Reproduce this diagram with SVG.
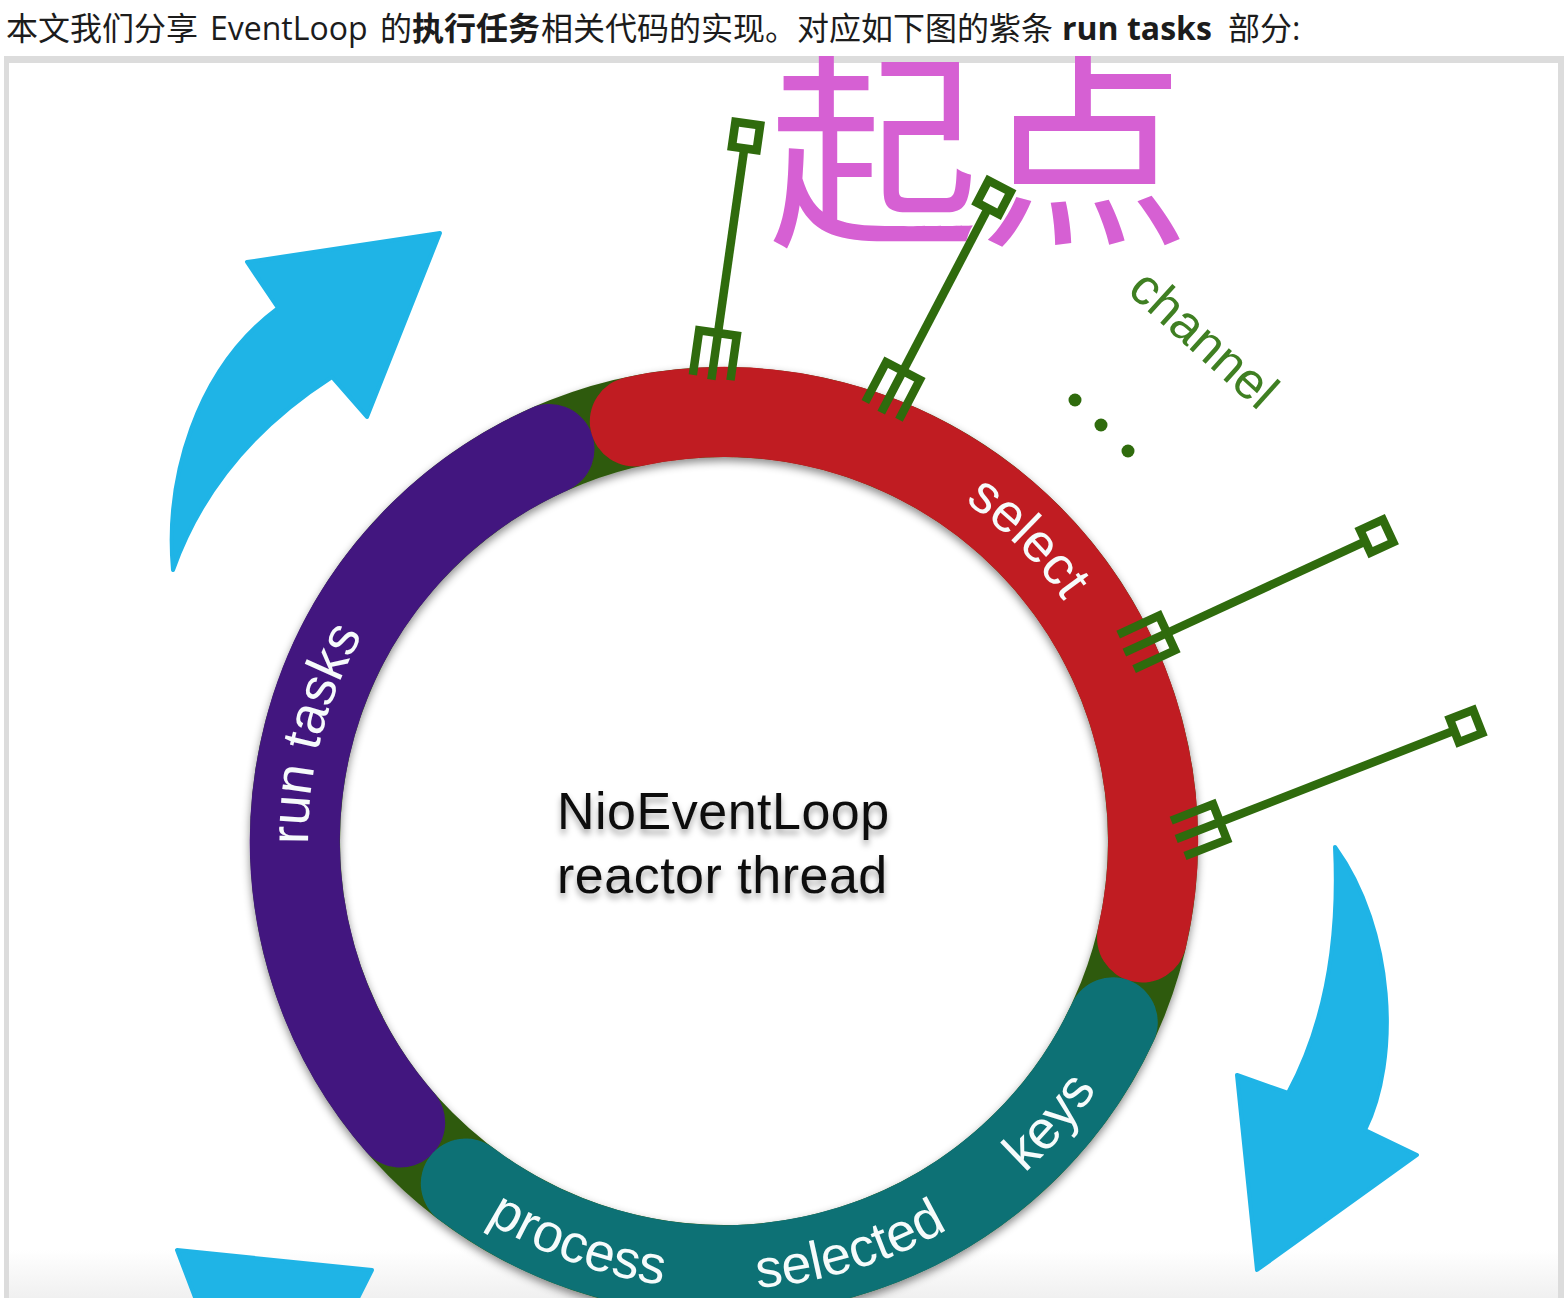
<svg xmlns="http://www.w3.org/2000/svg" xmlns:xlink="http://www.w3.org/1999/xlink" width="1564" height="1298" viewBox="0 0 1564 1298">
  <style>
    .hdr { font-family: "Open Sans", "Noto Sans CJK SC", sans-serif; font-size: 32px; fill: #1c1c1c; }
    .b { font-weight: bold; }
    .seg { fill: none; stroke-width: 90; stroke-linecap: round; }
    .lbl { font-family: "Liberation Sans", Arial, sans-serif; font-size: 54px; fill: #f6fbfb; }
    .ctr { font-family: "Liberation Sans", Arial, sans-serif; font-size: 52px; letter-spacing: 0.5px; fill: #111; }
    .pin { fill: none; stroke: #2f6b0d; stroke-width: 8.5; stroke-linejoin: miter; }
    .arrow { fill: #1fb4e6; stroke: #1fb4e6; stroke-width: 4; stroke-linejoin: round; }
  </style>
  <defs>
    <clipPath id="pic"><rect x="0" y="56" width="1564" height="1242"/></clipPath>
    <linearGradient id="floor" x1="0" y1="0" x2="0" y2="1">
      <stop offset="0" stop-color="#ffffff"/>
      <stop offset="1" stop-color="#f0f0f0"/>
    </linearGradient>
    <filter id="ringShadow" x="-10%" y="-10%" width="120%" height="120%">
      <feDropShadow dx="0" dy="4" stdDeviation="4" flood-color="#000" flood-opacity="0.45"/>
    </filter>
    <filter id="txtShadow" x="-10%" y="-30%" width="120%" height="160%">
      <feDropShadow dx="0" dy="5" stdDeviation="3" flood-color="#000" flood-opacity="0.35"/>
    </filter>
    <path id="cw416" d="M 724 1257 A 416 416 0 1 1 724 425 A 416 416 0 1 1 724 1257"/>
    <path id="ccw448" d="M 276 841 A 448 448 0 0 0 1172 841 A 448 448 0 0 0 276 841"/>
    <path id="fork" d="M -19 45 V 0 H 19 V 45 M 0 0 V 47"/>
    <rect id="sq" x="-12.5" y="-12.5" width="25" height="25"/>
  </defs>

  <rect x="0" y="0" width="1564" height="1298" fill="#ffffff"/>

  <g id="header">
    <text class="hdr" x="6" y="40">本文我们分享</text>
    <text class="hdr" x="210" y="40">EventLoop</text>
    <text class="hdr" x="380" y="40">的</text>
    <text class="hdr b" x="412" y="40">执行任务</text>
    <text class="hdr" x="541" y="40">相关代码的实现。对应如下图的紫条</text>
    <text class="hdr b" x="1062" y="40">run tasks</text>
    <text class="hdr" x="1228" y="40">部分:</text>
  </g>

  <g id="picture" clip-path="url(#pic)">
    <g id="frame">
      <rect x="4" y="56" width="1560" height="1242" fill="#dcdcdc"/>
      <rect x="9" y="63" width="1549" height="1235" fill="#ffffff"/>
      <rect x="9" y="1250" width="1549" height="48" fill="url(#floor)"/>
    </g>

    <g id="title-start">
      <text x="768" y="230" font-family="'Noto Sans CJK SC', sans-serif" font-size="211" fill="#d660d3">起点</text>
    </g>

    <g id="ring" filter="url(#ringShadow)">
      <circle cx="724" cy="841" r="429" fill="none" stroke="#2f5a0c" stroke-width="90"/>
      <path id="seg-run-tasks" class="seg" stroke="#43177f" d="M 400.2 1122.5 A 429 429 0 0 1 549.5 449.1"/>
      <path id="seg-select" class="seg" stroke="#c01b23" d="M 634.8 421.4 A 429 429 0 0 1 1142.0 937.5"/>
      <path id="seg-process" class="seg" stroke="#107174" d="M 1112.8 1022.3 A 429 429 0 0 1 465.8 1183.6"/>
    </g>

    <g id="ring-labels">
      <text class="lbl"><textPath href="#cw416" startOffset="650">run tasks</textPath></text>
      <text class="lbl"><textPath href="#cw416" startOffset="1563">select</textPath></text>
      <text class="lbl"><textPath href="#ccw448" startOffset="453">process</textPath></text>
      <text class="lbl"><textPath href="#ccw448" startOffset="737">selected</textPath></text>
      <text class="lbl"><textPath href="#ccw448" startOffset="1033">keys</textPath></text>
    </g>

    <g id="center-label" filter="url(#txtShadow)">
      <text class="ctr" x="557" y="829">NioEventLoop</text>
      <text class="ctr" x="557" y="893">reactor thread</text>
    </g>

    <g id="connectors">
      <g id="pin1" class="pin" transform="translate(718,333) rotate(8.1)">
        <use href="#fork"/>
        <line x1="0" y1="0" x2="0" y2="-186"/>
        <use href="#sq" y="-199"/>
      </g>
      <g id="pin2" class="pin" transform="translate(903,371) rotate(27.6)">
        <use href="#fork"/>
        <line x1="0" y1="0" x2="0" y2="-183"/>
        <use href="#sq" y="-196"/>
      </g>
      <g id="pin3" class="pin" transform="translate(1167,633) rotate(65.2)">
        <use href="#fork"/>
        <line x1="0" y1="0" x2="0" y2="-218"/>
        <use href="#sq" y="-231"/>
      </g>
      <g id="pin4" class="pin" transform="translate(1220,822) rotate(68.7)">
        <use href="#fork"/>
        <line x1="0" y1="0" x2="0" y2="-251"/>
        <use href="#sq" y="-264"/>
      </g>
    </g>

    <g id="channel-label">
      <text transform="translate(1126,292) rotate(42)" font-family="'Liberation Sans', Arial, sans-serif" font-size="51" fill="#3f7f22">channel</text>
      <circle cx="1075" cy="400" r="6.5" fill="#2f6b0d"/>
      <circle cx="1101" cy="425" r="6.5" fill="#2f6b0d"/>
      <circle cx="1128" cy="451" r="6.5" fill="#2f6b0d"/>
    </g>

    <g id="arrows">
      <path id="arrow-up" class="arrow" d="M 440 233 L 367 417 L 332 377 C 265 420 205 480 173 570 C 165 480 195 370 278 308 L 247 262 Z"/>
      <path id="arrow-down" class="arrow" d="M 1335 847 C 1395 930 1400 1060 1365 1130 L 1417 1155 L 1257 1270 L 1237 1075 L 1288 1093 C 1322 1030 1340 950 1335 847 Z"/>
      <path id="arrow-bottom" class="arrow" d="M 177 1250 L 372 1270 L 357 1300 L 196 1300 Z"/>
    </g>
  </g>
</svg>
